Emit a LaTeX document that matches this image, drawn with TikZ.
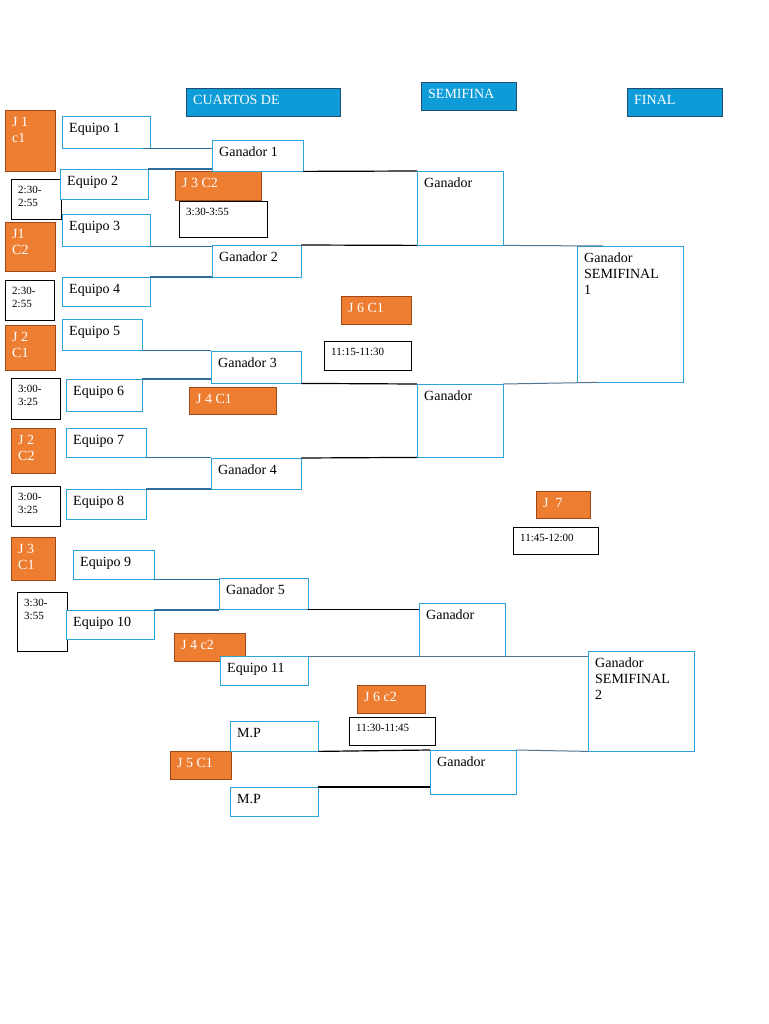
\documentclass[tikz,border=0pt]{standalone}
\usepackage{fontspec}
\setmainfont{Liberation Serif}
\usepackage{tikz}
\definecolor{naranja}{HTML}{ED7D31}
\definecolor{borde}{HTML}{A0481A}
\definecolor{cielo}{HTML}{0E9CD8}
\definecolor{celeste}{HTML}{2AA3DD}
\definecolor{azul}{HTML}{2E6C9E}
\tikzset{
 caja/.style = {draw, rectangle, inner sep=0pt, anchor=north west},
 equipo/.style = {caja, draw=celeste, fill=white},
 orange/.style = {caja, draw=borde, fill=naranja},
 hora/.style = {caja, draw=black, fill=white},
 titulo/.style = {caja, draw=azul!70!black, fill=cielo},
 texto/.style = {anchor=north west, align=left, inner sep=7pt, font=\fontsize{14}{16}\selectfont},
 lazo/.style = {draw=azul, line width=1.2pt},
 negro/.style = {draw=black, line width=1.2pt},
 gris/.style = {draw=azul!60!gray, line width=1pt}
}
% caja con texto arriba a la izquierda
\newcommand{\cajon}[8][]{%
 \node[#2, minimum width=#5pt, minimum height=#6pt] (#3) at (#4) {};
 \node[texto, #1] at (#3.north west) {#7#8};
}
\begin{document}
\begin{tikzpicture}[x=1pt, y=-1pt]
 \useasboundingbox (0,0) rectangle (768,1024);
 % titulos
 \cajon[text=white]{titulo}{t1}{186,88}{154}{28}{CUARTOS DE}{}
 \cajon[text=white]{titulo}{t2}{421,82}{95}{28}{SEMIFINA}{}
 \cajon[text=white]{titulo}{t3}{627,88}{95}{28}{FINAL}{}
 % juegos
 \cajon[text=white]{orange}{j1}{5,110}{50}{61}{J 1\\c1}{}
 \cajon[text=white]{orange}{j2}{5,222}{50}{49}{J1\\C2}{}
 \cajon[text=white]{orange}{j3}{5,325}{50}{45}{J 2\\C1}{}
 \cajon[text=white]{orange}{j4}{11,428}{44}{45}{J 2\\C2}{}
 \cajon[text=white]{orange}{j5}{11,537}{44}{43}{J 3\\C1}{}
 \cajon[text=white]{orange}{j6}{175,171}{86}{29}{J 3 C2}{}
 \cajon[text=white]{orange}{j7}{189,387}{87}{27}{J 4 C1}{}
 \cajon[text=white]{orange}{j8}{341,296}{70}{28}{J 6 C1}{}
 \cajon[text=white]{orange}{j9}{536,491}{54}{27}{J\ \ 7}{}
 \cajon[text=white]{orange}{j10}{174,633}{71}{28}{J 4 c2}{}
 \cajon[text=white]{orange}{j11}{357,685}{68}{28}{J 6 c2}{}
 \cajon[text=white]{orange}{j12}{170,751}{61}{28}{J 5 C1}{}
 % horarios
 \tikzset{texto/.append style={font=\fontsize{11}{13}\selectfont}}
 \cajon{hora}{h1}{11,179}{50}{40}{2:30-\\2:55}{}
 \cajon{hora}{h2}{5,280}{49}{40}{2:30-\\2:55}{}
 \cajon{hora}{h3}{11,378}{49}{41}{3:00-\\3:25}{}
 \cajon{hora}{h4}{11,486}{49}{40}{3:00-\\3:25}{}
 \cajon{hora}{h5}{17,592}{50}{59}{3:30-\\3:55}{}
 \cajon{hora}{h6}{179,201}{88}{36}{3:30-3:55}{}
 \cajon{hora}{h7}{324,341}{87}{29}{11:15-11:30}{}
 \cajon{hora}{h8}{513,527}{85}{27}{11:45-12:00}{}
 \cajon{hora}{h9}{349,717}{86}{28}{11:30-11:45}{}
 \tikzset{texto/.append style={font=\fontsize{14}{16}\selectfont}}
 % equipos
 \cajon{equipo}{e1}{62,116}{88}{32}{Equipo 1}{}
 \cajon{equipo}{e2}{60,169}{88}{30}{Equipo 2}{}
 \cajon{equipo}{e3}{62,214}{88}{32}{Equipo 3}{}
 \cajon{equipo}{e4}{62,277}{88}{29}{Equipo 4}{}
 \cajon{equipo}{e5}{62,319}{80}{31}{Equipo 5}{}
 \cajon{equipo}{e6}{66,379}{76}{32}{Equipo 6}{}
 \cajon{equipo}{e7}{66,428}{80}{29}{Equipo 7}{}
 \cajon{equipo}{e8}{66,489}{80}{30}{Equipo 8}{}
 \cajon{equipo}{e9}{73,550}{81}{29}{Equipo 9}{}
 \cajon{equipo}{e10}{66,610}{88}{29}{Equipo 10}{}
 \cajon{equipo}{e11}{220,656}{88}{29}{Equipo 11}{}
 \cajon{equipo}{mp1}{230,721}{88}{30}{M.P}{}
 \cajon{equipo}{mp2}{230,787}{88}{29}{M.P}{}
 % ganadores
 \cajon{equipo}{g1}{212,140}{91}{31}{Ganador 1}{}
 \cajon{equipo}{g2}{212,245}{89}{32}{Ganador 2}{}
 \cajon{equipo}{g3}{211,351}{90}{32}{Ganador 3}{}
 \cajon{equipo}{g4}{211,458}{90}{31}{Ganador 4}{}
 \cajon{equipo}{g5}{219,578}{89}{31}{Ganador 5}{}
 \cajon{equipo}{s1}{417,171}{86}{74}{Ganador}{}
 \cajon{equipo}{s2}{417,384}{86}{73}{Ganador}{}
 \cajon{equipo}{s3}{419,603}{86}{53}{Ganador}{}
 \cajon{equipo}{s4}{430,750}{86}{44}{Ganador}{}
 \cajon{equipo}{f1}{577,246}{106}{136}{Ganador\\SEMIFINAL\\1}{}
 \cajon{equipo}{f2}{588,651}{106}{100}{Ganador\\SEMIFINAL\\2}{}
 % llaves
 \draw[lazo] ([xshift=-7pt]e1.south east) -- (e1.south east -| g1.west);
 \draw[lazo] (e2.north east) -- (e2.north east -| g1.west);
 \draw[lazo] (e3.south east) -- (e3.south east -| g2.west);
 \draw[lazo] (e4.north east) -- (e4.north east -| g2.west);
 \draw[lazo] (e5.south east) -- (e5.south east -| g3.west);
 \draw[lazo] (e6.north east) -- (e6.north east -| g3.west);
 \draw[lazo] (e7.south east) -- (e7.south east -| g4.west);
 \draw[lazo] (e8.north east) -- (e8.north east -| g4.west);
 \draw[lazo] (e9.south east) -- (e9.south east -| g5.west);
 \draw[lazo] (e10.north east) -- (e10.north east -| g5.west);
 \draw[negro] (g1.south east) -- (s1.north west);
 \draw[negro] (g2.north east) -- (s1.south west);
 \draw[negro] (g3.south east) -- (s2.north west);
 \draw[negro] (g4.north east) -- (s2.south west);
 \draw[negro] (g5.south east) -- (g5.south east -| s3.west);
 \draw[negro] (mp1.south east) -- (s4.north west);
 \draw[negro] (mp2.north east) -- (mp2.north east -| s4.west);
 \draw[gris] (s1.south east) -- ([xshift=26pt]f1.north west);
 \draw[gris] (s2.north east) -- ([xshift=20pt]f1.south west);
 \draw[gris] (e11.north east) -- (e11.north east -| f2.west);
 \draw[gris] (s4.north east) -- (f2.south west);
\end{tikzpicture}
\end{document}
